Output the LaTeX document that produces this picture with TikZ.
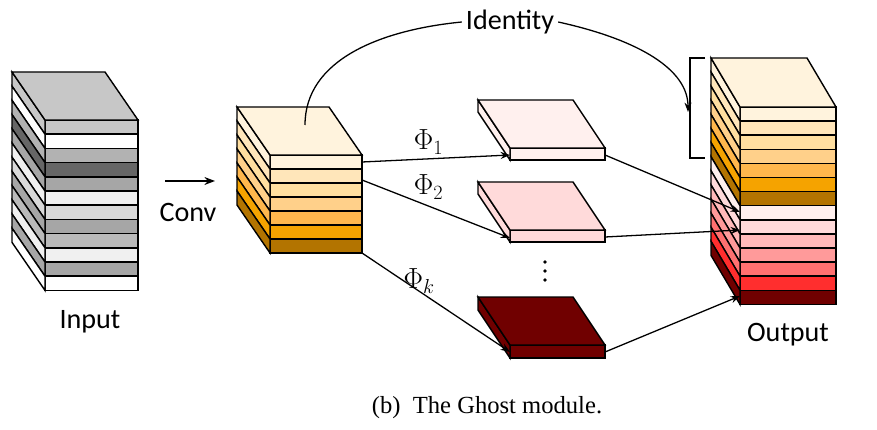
\documentclass[tikz,border=0pt]{standalone}
\usepackage{fontspec}
\setmainfont{Carlito}
\newfontfamily\capfont{Liberation Serif}
\usepackage{amsmath}
\usepackage[svgnames,table]{xcolor}
\usetikzlibrary{arrows.meta}
\definecolor{o1}{HTML}{FFF3DD}\definecolor{o2}{HTML}{FFE6BA}\definecolor{o3}{HTML}{FFDFA0}
\definecolor{o4}{HTML}{FFD08A}\definecolor{o5}{HTML}{FFB74D}\definecolor{o6}{HTML}{F5A300}
\definecolor{o7}{HTML}{B37400}
\definecolor{r1}{HTML}{FFF0EE}\definecolor{r2}{HTML}{FFDADA}\definecolor{r3}{HTML}{FFB9B9}
\definecolor{r4}{HTML}{FF9A9A}\definecolor{r5}{HTML}{FF7070}\definecolor{r6}{HTML}{FF2E2E}
\definecolor{r7}{HTML}{700000}
% one layer: x0,x1 front, y top, height, depth dx,dy, colour
\newcommand{\slab}[7]{%
  \draw[line width=1.2pt,fill=#7] (#1,#3) rectangle (#2,#3+#4);
  \draw[line width=1.2pt,fill=#7] (#1,#3) -- (#1+#5,#3+#6) -- (#1+#5,#3+#6+#4) -- (#1,#3+#4) -- cycle;}
\newcommand{\lid}[6]{%
  \draw[line width=1.2pt,fill=#6] (#1,#3) -- (#1+#4,#3+#5) -- (#2+#4,#3+#5) -- (#2,#3) -- cycle;}
\tikzset{flow/.style={-{Stealth[length=8pt]},line width=1.1pt},
  lbl/.style={font=\fontsize{24}{26}\selectfont}}
\begin{document}
\begin{tikzpicture}[x=0.03cm, y=-0.03cm]
\useasboundingbox (0,0) rectangle (877,430);
% input
\foreach \c [count=\i from 0] in {black!22,white,black!30,black!60,black!35,black!6,black!15,black!35,black!27,black!6,black!35,white}
  \slab{45}{138}{120+\i*14.2}{14.2}{-33}{-48}{\c};
\lid{45}{138}{120}{-33}{-48}{black!22}
\node[lbl] (input) at (90,322) {Input};
% conv
\coordinate (c0) at (165,181); \coordinate (c1) at (215,181);
\draw[-{Stealth[length=9pt]},line width=1.6pt] (c0) -- (c1);
\node[lbl] (conv) at (188,212) {Conv};
\foreach \c [count=\i from 0] in {o1,o2,o3,o4,o5,o6,o7}
  \slab{270}{362}{155+\i*14}{14}{-33}{-48}{\c};
\lid{270}{362}{155}{-33}{-48}{o1}
% thin blocks
\slab{510}{605}{148}{12}{-32}{-48}{r1}\lid{510}{605}{148}{-32}{-48}{r1}
\slab{510}{605}{230}{12}{-32}{-48}{r2}\lid{510}{605}{230}{-32}{-48}{r2}
\slab{510}{605}{345}{13}{-32}{-48}{r7}\lid{510}{605}{345}{-32}{-48}{r7}
\foreach \y in {262,271,280} \fill (545,\y) circle (1.6pt);
% output
\foreach \c [count=\i from 0] in {o1,o2,o3,o4,o5,o6,o7,r1,r2,r3,r4,r5,r6,r7}
  \slab{740}{836}{107+\i*14.1}{14.1}{-29}{-49}{\c};
\lid{740}{836}{107}{-29}{-49}{o1}
\node[lbl] (output) at (788,335) {Output};
% connectors
\coordinate (a1) at (362,162); \coordinate (a2) at (362,180); \coordinate (ak) at (362,253);
\coordinate (b1) at (510,155); \coordinate (b2) at (510,238); \coordinate (bk) at (510,352);
\coordinate (e1) at (605,155); \coordinate (e2) at (605,237); \coordinate (ek) at (605,352);
\coordinate (f1) at (740,212); \coordinate (f2) at (740,230); \coordinate (fk) at (740,296);
\draw[flow] (a1) -- node[lbl,above,pos=0.45] {$\Phi_1$} (b1);
\draw[flow] (a2) -- node[lbl,above,pos=0.45,yshift=2pt] {$\Phi_2$} (b2);
\draw[flow] (ak) -- node[lbl,above,pos=0.45,xshift=-8pt] {$\Phi_k$} (bk);
\draw[flow] (e1) -- (f1); \draw[flow] (e2) -- (f2); \draw[flow] (ek) -- (fk);
% identity
\node[lbl] (ident) at (510,22) {Identity};
\coordinate (s0) at (305,125); \coordinate (s1) at (688,112);
\draw[line width=1.1pt] (s0) .. controls (305,60) and (380,30) .. (ident.west);
\draw[flow] (ident.east) .. controls (640,40) and (688,70) .. (s1);
\draw[line width=1.1pt] (705,58) -- (690,58) -- (690,158) -- (705,158);
\node[font=\fontsize{21}{24}\selectfont\capfont] (cap) at (487,408) {(b)\ \ The Ghost module.};
\end{tikzpicture}
\end{document}
